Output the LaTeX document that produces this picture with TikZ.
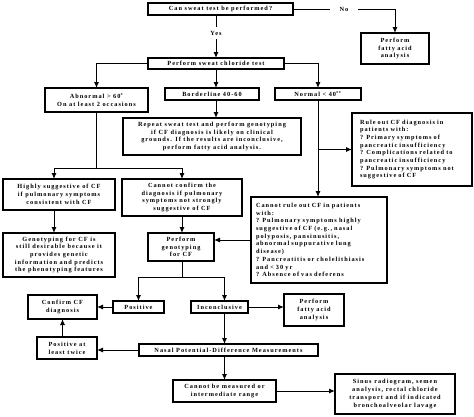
\documentclass[tikz,border=0pt]{standalone}
\usepackage{fontspec}
\newfontfamily\chartfont{Liberation Serif}[LetterSpace=16]
\usetikzlibrary{arrows.meta,positioning}
\tikzset{
	%Define standard arrow tip
	>={Latex[length=6pt,width=5pt]},
	%Define style for boxes
	punkt/.style={
		rectangle,
		draw=black, line width=1.1pt,
		inner sep=1pt, outer sep=0pt,
		align=center,
		font=\chartfont\bfseries\fontsize{6.3pt}{7.7pt}\selectfont},
	punktl/.style={
		punkt,
		align=left},
	mylabel/.style={
		fill=white,
		inner xsep=10pt, inner ysep=1pt,
		font=\chartfont\bfseries\fontsize{6.3pt}{7.7pt}\selectfont},
	% Define arrow style
	pil/.style={
		->,
		line width=1pt}
}
\begin{document}
\begin{tikzpicture}
	\path[use as bounding box, fill=white] (0,0) rectangle (474pt,-416pt);
	% node question
	\node[punkt, minimum width=145pt, minimum height=12pt] (question) at (220.5pt,-9pt) {Can sweat test be performed?};
	% node fatty acid (no sweat test)
	\node[punkt, minimum width=68pt, minimum height=31pt, below right=18pt and 68pt of question] (fatty1) {Perform\\fatty acid\\analysis};
	% node sweat chloride test
	\node[punkt, minimum width=136pt, minimum height=11pt, below=43pt of question, xshift=-4.5pt] (sweat) {Perform sweat chloride test};
	% node abnormal
	\node[punkt, minimum width=103pt, minimum height=24pt, below left=19pt and 0pt of sweat] (abnormal) {Abnormal > 60\textsuperscript{*}\\On at least 2 occasions};
	% node borderline
	\node[punkt, minimum width=94pt, minimum height=12pt, below=19pt of sweat, xshift=-4pt] (border) {Borderline 40-60};
	% node normal
	\node[punkt, minimum width=86pt, minimum height=12pt, below right=19pt and -9pt of sweat] (normal) {Normal < 40\textsuperscript{**}};
	% node repeat
	\node[punkt, minimum width=178pt, minimum height=37pt, below=18pt of border] (repeat) {Repeat sweat test and perform genotyping\\if CF diagnosis is likely on clinical\\grounds. If the results are inconclusive,\\perform fatty acid analysis.};
	% node rule out
	\node[punktl, text width=104pt, inner xsep=8pt, minimum height=73pt, below right=13pt and -9pt of normal] (ruleout) {Rule out CF diagnosis in\\patients with:\\? Primary symptoms of\\pancreatic insufficiency\\? Complications related to\\pancreatic insufficiency\\? Pulmonary symptoms not\\suggestive of CF};
	% node highly suggestive
	\node[punkt, minimum width=112pt, minimum height=31pt, below=67pt of abnormal, xshift=-37.5pt] (highly) {Highly suggestive of CF\\if pulmonary symptoms\\consistent with CF};
	% node cannot confirm
	\node[punkt, minimum width=120pt, minimum height=37pt, below=24pt of repeat, xshift=-30pt] (noconfirm) {Cannot confirm the\\diagnosis if pulmonary\\symptoms not strongly\\suggestive of CF};
	% node cannot rule out
	\node[punktl, text width=126pt, inner xsep=5pt, minimum height=86pt, below=97pt of normal, xshift=1pt] (noruleout) {Cannot rule out CF in patients\\with:\\? Pulmonary symptoms highly\\suggestive of CF (e.g., nasal\\polyposis, pansinusitis,\\abnormal suppurative lung\\disease)\\? Pancreatitis or cholelithiasis\\and < 30 yr\\? Absence of vas deferens};
	% node still desirable
	\node[punkt, minimum width=112pt, minimum height=44pt, below=23pt of highly] (desirable) {Genotyping for CF is\\still desirable because it\\provides genetic\\information and predicts\\the phenotyping features};
	% node genotyping
	\node[punkt, minimum width=66pt, minimum height=28pt, below=17pt of noconfirm, xshift=-1pt] (genotype) {Perform\\genotyping\\for CF};
	% node positive
	\node[punkt, minimum width=51pt, minimum height=12pt, below=40pt of genotype, xshift=-42.5pt] (positive) {Positive};
	% node inconclusive
	\node[punkt, minimum width=57pt, minimum height=12pt, below=40pt of genotype, xshift=38.5pt] (inconcl) {Inconclusive};
	% node fatty acid (inconclusive)
	\node[punkt, minimum width=60pt, minimum height=32pt, right=36pt of inconcl, yshift=-3pt] (fatty2) {Perform\\fatty acid\\analysis};
	% node confirm
	\node[punkt, minimum width=69pt, minimum height=24pt, left=16pt of positive] (confirm) {Confirm CF\\diagnosis};
	% node positive twice
	\node[punkt, minimum width=60pt, minimum height=22pt, below=18pt of confirm, xshift=4.5pt] (twice) {Positive at\\least twice};
	% node nasal PD
	\node[punkt, minimum width=179pt, minimum height=12pt, below=31pt of inconcl, xshift=9pt] (nasal) {Nasal Potential-Difference Measurements};
	% node unclear
	\node[punkt, minimum width=103pt, minimum height=22pt, below=24pt of nasal, xshift=-4pt] (unclear) {Cannot be measured or\\intermediate range};
	% node sinus
	\node[punkt, minimum width=120pt, minimum height=40pt, right=59pt of unclear, yshift=-3pt] (sinus) {Sinus radiogram, semen\\analysis, rectal chloride\\transport and if indicated\\bronchoalveolar lavage};
	\draw[pil] (question.east) -- node[mylabel] {No} (question.east -| fatty1.north) -- (fatty1.north);
	\draw[pil] (question.south -| sweat.north) -- node[mylabel, inner xsep=2pt, inner ysep=4pt, pos=0.42] {Yes} (sweat.north);
	\draw[pil] (sweat.west) -| (abnormal.north);
	\draw[pil] (sweat.south) -- (sweat.south |- border.north);
	\draw[pil] (sweat.east) -| (normal.north);
	\draw[pil] (sweat.south |- border.south) -- (sweat.south |- repeat.north);
	\draw[pil] (normal.south) -- (normal.south |- noruleout.north);
	\draw[pil] (normal.south |- ruleout.west) -- (ruleout.west);
	\draw (abnormal.south) -- ++(0,-56pt) coordinate (abnsplit);
	\draw[pil] (abnsplit) -| ([xshift=-5pt]highly.north);
	\draw[pil] (abnsplit) -| (noconfirm.north);
	\draw[pil] ([xshift=-5pt]highly.south) -- ([xshift=-5pt]desirable.north);
	\draw[pil] (noconfirm.south) -- (noconfirm.south |- genotype.north);
	\draw[pil] (noruleout.west) -- (noruleout.west -| genotype.east);
	\draw (noconfirm.south |- genotype.south) -- ++(0,-16pt) coordinate (genosplit);
	\draw[pil] (genosplit) -| (positive.north);
	\draw[pil] (genosplit) -| (inconcl.north -| unclear.north);
	\draw[pil] (positive.west) -- (confirm.east);
	\draw[pil] (inconcl.east) -- (inconcl.east -| fatty2.west);
	\draw[pil] (inconcl.south -| unclear.north) -- (nasal.north -| unclear.north);
	\draw[pil] (nasal.west) -- (nasal.west -| twice.east);
	\draw[pil] (twice.north -| confirm.south) -- (confirm.south);
	\draw[pil] (nasal.south -| unclear.north) -- (unclear.north);
	\draw[pil] (unclear.east) -- (unclear.east -| sinus.west);
\end{tikzpicture}
\end{document}
